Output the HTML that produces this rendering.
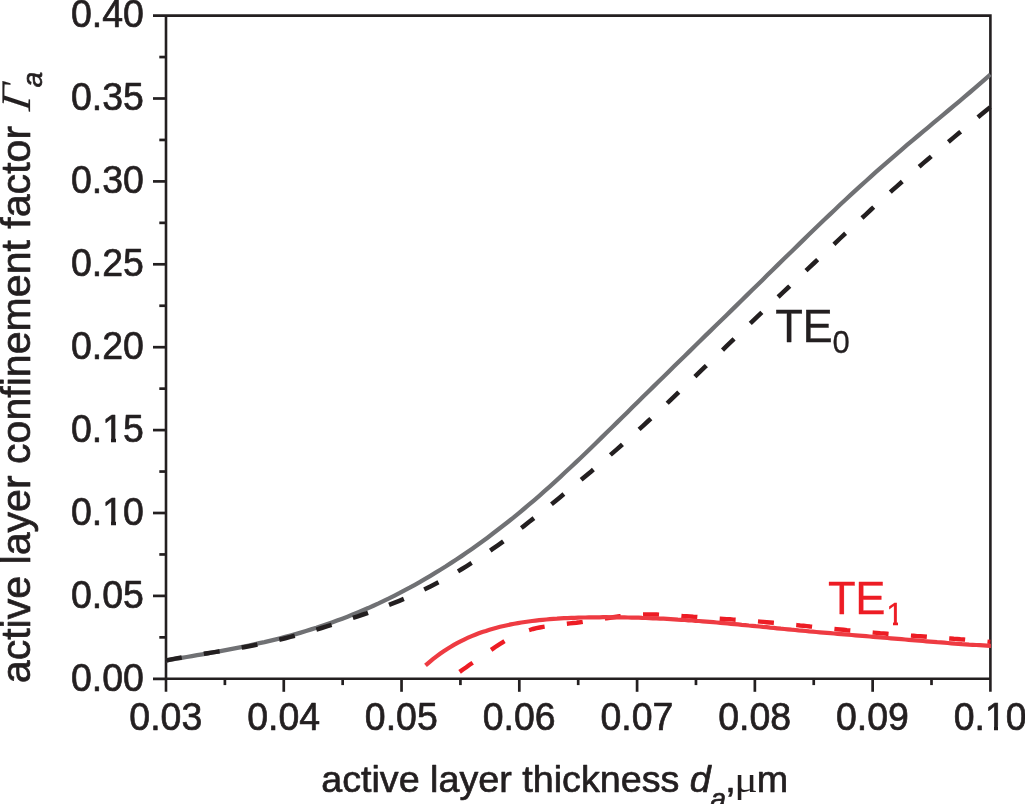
<!DOCTYPE html>
<html><head><meta charset="utf-8"><title>Confinement factor</title>
<style>
html,body{margin:0;padding:0;background:#fff;}
body{width:1025px;height:804px;overflow:hidden;}
svg{display:block;}
text{font-family:"Liberation Sans",sans-serif;fill:#231f20;stroke:#231f20;stroke-width:0.7px;stroke-linejoin:round;}
.tk{font-size:38.7px;}
.ser{font-family:"Liberation Serif",serif;}
</style></head><body>
<svg width="1025" height="804" viewBox="0 0 1025 804">
<rect width="1025" height="804" fill="#fff"/>

<g stroke="#231f20" stroke-width="2.7" fill="none" stroke-linecap="butt">
<path stroke-width="2.6" d="M166.0,15.6 H991.6999999999999 M990.4,15.6 V691.8 M166.0,678.8 H990.4 M166.0,15.6 V691.8"/>
<path d="M153.0,15.6 H166.0 M153.0,678.8 H166.0"/>
<path d="M159.3,637.35 H166.0"/>
<path d="M153.0,595.90 H166.0"/>
<path d="M159.3,554.45 H166.0"/>
<path d="M153.0,513.00 H166.0"/>
<path d="M159.3,471.55 H166.0"/>
<path d="M153.0,430.10 H166.0"/>
<path d="M159.3,388.65 H166.0"/>
<path d="M153.0,347.20 H166.0"/>
<path d="M159.3,305.75 H166.0"/>
<path d="M153.0,264.30 H166.0"/>
<path d="M159.3,222.85 H166.0"/>
<path d="M153.0,181.40 H166.0"/>
<path d="M159.3,139.95 H166.0"/>
<path d="M153.0,98.50 H166.0"/>
<path d="M159.3,57.05 H166.0"/>
<path d="M224.89,678.8 V685.0999999999999"/>
<path d="M283.77,678.8 V691.8"/>
<path d="M342.66,678.8 V685.0999999999999"/>
<path d="M401.54,678.8 V691.8"/>
<path d="M460.43,678.8 V685.0999999999999"/>
<path d="M519.31,678.8 V691.8"/>
<path d="M578.20,678.8 V685.0999999999999"/>
<path d="M637.09,678.8 V691.8"/>
<path d="M695.97,678.8 V685.0999999999999"/>
<path d="M754.86,678.8 V691.8"/>
<path d="M813.74,678.8 V685.0999999999999"/>
<path d="M872.63,678.8 V691.8"/>
<path d="M931.51,678.8 V685.0999999999999"/>
</g>
<text class="tk" transform="translate(143.9,690.5) scale(0.968,1)" text-anchor="end">0.00</text>
<text class="tk" transform="translate(143.9,607.6) scale(0.968,1)" text-anchor="end">0.05</text>
<text class="tk" transform="translate(143.9,524.7) scale(0.968,1)" text-anchor="end">0.10</text>
<rect x="103.88" y="520.01" width="7.12" height="6.09" fill="#fff"/><rect x="116.00" y="520.01" width="6.44" height="6.09" fill="#fff"/>
<text class="tk" transform="translate(143.9,441.8) scale(0.968,1)" text-anchor="end">0.15</text>
<rect x="103.88" y="437.11" width="7.12" height="6.09" fill="#fff"/><rect x="116.00" y="437.11" width="6.44" height="6.09" fill="#fff"/>
<text class="tk" transform="translate(143.9,358.9) scale(0.968,1)" text-anchor="end">0.20</text>
<text class="tk" transform="translate(143.9,276.0) scale(0.968,1)" text-anchor="end">0.25</text>
<text class="tk" transform="translate(143.9,193.1) scale(0.968,1)" text-anchor="end">0.30</text>
<text class="tk" transform="translate(143.9,110.2) scale(0.968,1)" text-anchor="end">0.35</text>
<text class="tk" transform="translate(143.9,27.3) scale(0.968,1)" text-anchor="end">0.40</text>
<text class="tk" transform="translate(165.8,730.4) scale(0.968,1)" text-anchor="middle">0.03</text>
<text class="tk" transform="translate(283.6,730.4) scale(0.968,1)" text-anchor="middle">0.04</text>
<text class="tk" transform="translate(401.3,730.4) scale(0.968,1)" text-anchor="middle">0.05</text>
<text class="tk" transform="translate(519.1,730.4) scale(0.968,1)" text-anchor="middle">0.06</text>
<text class="tk" transform="translate(636.9,730.4) scale(0.968,1)" text-anchor="middle">0.07</text>
<text class="tk" transform="translate(754.7,730.4) scale(0.968,1)" text-anchor="middle">0.08</text>
<text class="tk" transform="translate(872.4,730.4) scale(0.968,1)" text-anchor="middle">0.09</text>
<text class="tk" transform="translate(990.2,730.4) scale(0.968,1)" text-anchor="middle">0.10</text>
<rect x="986.64" y="725.71" width="7.36" height="6.09" fill="#fff"/><rect x="998.00" y="725.71" width="7.19" height="6.09" fill="#fff"/>
<path d="M166.0,660.5 L171.2,659.6 L176.4,658.7 L181.6,657.8 L186.7,657.0 L191.9,656.1 L197.1,655.2 L202.3,654.3 L207.5,653.4 L212.7,652.5 L217.8,651.6 L223.0,650.6 L228.2,649.6 L233.4,648.6 L238.6,647.6 L243.8,646.6 L249.0,645.5 L254.1,644.4 L259.3,643.2 L264.5,642.1 L269.7,640.8 L274.9,639.6 L280.1,638.3 L285.3,636.9 L290.4,635.5 L295.6,634.1 L300.8,632.6 L306.0,631.0 L311.2,629.4 L316.4,627.8 L321.5,626.1 L326.7,624.3 L331.9,622.5 L337.1,620.6 L342.3,618.7 L347.5,616.7 L352.7,614.6 L357.8,612.5 L363.0,610.3 L368.2,608.1 L373.4,605.7 L378.6,603.4 L383.8,600.9 L389.0,598.4 L394.1,595.8 L399.3,593.2 L404.5,590.4 L409.7,587.7 L414.9,584.8 L420.1,581.9 L425.2,578.9 L430.4,575.8 L435.6,572.7 L440.8,569.5 L446.0,566.3 L451.2,562.9 L456.4,559.5 L461.5,556.1 L466.7,552.5 L471.9,548.9 L477.1,545.2 L482.3,541.5 L487.5,537.7 L492.6,533.8 L497.8,529.8 L503.0,525.8 L508.2,521.7 L513.4,517.6 L518.6,513.3 L523.8,509.0 L528.9,504.7 L534.1,500.3 L539.3,495.8 L544.5,491.2 L549.7,486.6 L554.9,481.9 L560.1,477.1 L565.2,472.3 L570.4,467.5 L575.6,462.6 L580.8,457.7 L586.0,452.7 L591.2,447.7 L596.3,442.7 L601.5,437.6 L606.7,432.5 L611.9,427.5 L617.1,422.4 L622.3,417.3 L627.5,412.2 L632.6,407.1 L637.8,401.9 L643.0,396.8 L648.2,391.7 L653.4,386.6 L658.6,381.5 L663.8,376.5 L668.9,371.4 L674.1,366.3 L679.3,361.2 L684.5,356.2 L689.7,351.1 L694.9,346.0 L700.0,341.0 L705.2,335.9 L710.4,330.9 L715.6,325.8 L720.8,320.8 L726.0,315.7 L731.2,310.6 L736.3,305.6 L741.5,300.5 L746.7,295.4 L751.9,290.3 L757.1,285.3 L762.3,280.2 L767.4,275.1 L772.6,270.0 L777.8,264.9 L783.0,259.8 L788.2,254.7 L793.4,249.7 L798.6,244.6 L803.7,239.6 L808.9,234.5 L814.1,229.5 L819.3,224.5 L824.5,219.5 L829.7,214.6 L834.9,209.7 L840.0,204.8 L845.2,200.0 L850.4,195.2 L855.6,190.4 L860.8,185.7 L866.0,181.0 L871.1,176.3 L876.3,171.7 L881.5,167.1 L886.7,162.6 L891.9,158.1 L897.1,153.6 L902.3,149.1 L907.4,144.7 L912.6,140.3 L917.8,136.0 L923.0,131.6 L928.2,127.3 L933.4,122.9 L938.6,118.6 L943.7,114.3 L948.9,110.0 L954.1,105.6 L959.3,101.3 L964.5,96.9 L969.7,92.5 L974.8,88.1 L980.0,83.6 L985.2,79.1 L990.4,74.5" fill="none" stroke="#707174" stroke-width="4.3"/>
<path d="M166.0,660.5 L171.2,659.4 L176.4,658.4 L181.6,657.5 L186.7,656.6 L191.9,655.7 L197.1,654.9 L202.3,654.1 L207.5,653.2 L212.7,652.4 L217.8,651.6 L223.0,650.8 L228.2,649.9 L233.4,649.0 L238.6,648.1 L243.8,647.2 L249.0,646.2 L254.1,645.2 L259.3,644.1 L264.5,643.0 L269.7,641.9 L274.9,640.7 L280.1,639.5 L285.3,638.2 L290.4,636.9 L295.6,635.5 L300.8,634.1 L306.0,632.6 L311.2,631.1 L316.4,629.6 L321.5,628.0 L326.7,626.4 L331.9,624.8 L337.1,623.1 L342.3,621.5 L347.5,619.8 L352.7,618.0 L357.8,616.3 L363.0,614.5 L368.2,612.7 L373.4,610.8 L378.6,608.9 L383.8,606.9 L389.0,604.9 L394.1,602.9 L399.3,600.8 L404.5,598.6 L409.7,596.3 L414.9,594.0 L420.1,591.6 L425.2,589.1 L430.4,586.5 L435.6,583.8 L440.8,581.1 L446.0,578.3 L451.2,575.4 L456.4,572.3 L461.5,569.3 L466.7,566.1 L471.9,562.8 L477.1,559.5 L482.3,556.0 L487.5,552.5 L492.6,548.9 L497.8,545.3 L503.0,541.6 L508.2,537.8 L513.4,533.9 L518.6,530.0 L523.8,526.1 L528.9,522.1 L534.1,518.0 L539.3,513.9 L544.5,509.8 L549.7,505.6 L554.9,501.4 L560.1,497.2 L565.2,493.0 L570.4,488.7 L575.6,484.4 L580.8,480.1 L586.0,475.7 L591.2,471.4 L596.3,467.0 L601.5,462.5 L606.7,458.1 L611.9,453.6 L617.1,449.1 L622.3,444.5 L627.5,439.9 L632.6,435.2 L637.8,430.6 L643.0,425.8 L648.2,421.0 L653.4,416.2 L658.6,411.4 L663.8,406.5 L668.9,401.6 L674.1,396.7 L679.3,391.7 L684.5,386.7 L689.7,381.7 L694.9,376.7 L700.0,371.7 L705.2,366.7 L710.4,361.7 L715.6,356.7 L720.8,351.7 L726.0,346.7 L731.2,341.7 L736.3,336.8 L741.5,331.8 L746.7,326.8 L751.9,321.9 L757.1,316.9 L762.3,312.0 L767.4,307.1 L772.6,302.2 L777.8,297.3 L783.0,292.4 L788.2,287.5 L793.4,282.6 L798.6,277.7 L803.7,272.8 L808.9,267.9 L814.1,263.0 L819.3,258.1 L824.5,253.2 L829.7,248.3 L834.9,243.4 L840.0,238.5 L845.2,233.6 L850.4,228.8 L855.6,223.9 L860.8,219.1 L866.0,214.3 L871.1,209.5 L876.3,204.8 L881.5,200.1 L886.7,195.4 L891.9,190.7 L897.1,186.1 L902.3,181.5 L907.4,176.9 L912.6,172.4 L917.8,167.9 L923.0,163.4 L928.2,159.0 L933.4,154.6 L938.6,150.2 L943.7,145.8 L948.9,141.5 L954.1,137.1 L959.3,132.8 L964.5,128.5 L969.7,124.2 L974.8,119.9 L980.0,115.6 L985.2,111.3 L990.4,107.0" fill="none" stroke="#231f20" stroke-width="4.5" stroke-dasharray="16 22.4"/>
<path d="M459.6,671.9 L462.9,669.5 L466.3,667.2 L469.6,664.8 L473.0,662.5 L476.3,660.2 L479.6,657.9 L483.0,655.5 L486.3,653.2 L489.6,650.9 L493.0,648.6 L496.3,646.3 L499.7,644.2 L503.0,642.1 L506.3,640.1 L509.7,638.3 L513.0,636.5 L516.4,634.9 L519.7,633.5 L523.0,632.2 L526.4,631.0 L529.7,630.0 L533.0,629.0 L536.4,628.2 L539.7,627.5 L543.1,626.8 L546.4,626.3 L549.7,625.7 L553.1,625.3 L556.4,624.9 L559.8,624.5 L563.1,624.1 L566.4,623.8 L569.8,623.4 L573.1,623.0 L576.4,622.7 L579.8,622.3 L583.1,621.8 L586.5,621.4 L589.8,620.9 L593.1,620.4 L596.5,619.9 L599.8,619.3 L603.1,618.8 L606.5,618.2 L609.8,617.7 L613.2,617.2 L616.5,616.7 L619.8,616.2 L623.2,615.8 L626.5,615.5 L629.9,615.2 L633.2,614.9 L636.5,614.7 L639.9,614.6 L643.2,614.5 L646.5,614.4 L649.9,614.4 L653.2,614.5 L656.6,614.5 L659.9,614.7 L663.2,614.8 L666.6,615.0 L669.9,615.2 L673.3,615.4 L676.6,615.6 L679.9,615.8 L683.3,616.1 L686.6,616.3 L689.9,616.5 L693.3,616.8 L696.6,617.0 L700.0,617.3 L703.3,617.5 L706.6,617.8 L710.0,618.0 L713.3,618.2 L716.7,618.5 L720.0,618.7 L723.3,618.9 L726.7,619.1 L730.0,619.3 L733.3,619.6 L736.7,619.8 L740.0,620.0 L743.4,620.3 L746.7,620.5 L750.0,620.8 L753.4,621.0 L756.7,621.3 L760.1,621.6 L763.4,621.9 L766.7,622.2 L770.1,622.5 L773.4,622.8 L776.7,623.1 L780.1,623.4 L783.4,623.8 L786.8,624.1 L790.1,624.4 L793.4,624.8 L796.8,625.1 L800.1,625.5 L803.5,625.8 L806.8,626.1 L810.1,626.5 L813.5,626.8 L816.8,627.2 L820.1,627.5 L823.5,627.8 L826.8,628.2 L830.2,628.5 L833.5,628.9 L836.8,629.2 L840.2,629.5 L843.5,629.8 L846.9,630.2 L850.2,630.5 L853.5,630.8 L856.9,631.1 L860.2,631.4 L863.5,631.7 L866.9,632.0 L870.2,632.3 L873.6,632.6 L876.9,632.9 L880.2,633.2 L883.6,633.4 L886.9,633.7 L890.2,634.0 L893.6,634.3 L896.9,634.5 L900.3,634.8 L903.6,635.0 L906.9,635.3 L910.3,635.6 L913.6,635.8 L917.0,636.1 L920.3,636.3 L923.6,636.5 L927.0,636.8 L930.3,637.0 L933.6,637.3 L937.0,637.5 L940.3,637.8 L943.7,638.0 L947.0,638.3 L950.3,638.5 L953.7,638.8 L957.0,639.0 L960.4,639.3 L963.7,639.5 L967.0,639.8 L970.4,640.1 L973.7,640.4 L977.0,640.7 L980.4,641.0 L983.7,641.3 L987.1,641.6 L990.4,641.9" fill="none" stroke="#ed1c24" stroke-width="4.4" stroke-dasharray="16 22.4 16 27.0 16 22.4 16 22.4 16 22.4 16 22.4 16 22.4 16 22.4 16 22.4 16 22.4 16 22.4 16 22.4 16 22.4 16 22.4 16 22.4 16 22.4 16 22.4 "/>
<path d="M425.5,665.4 L429.1,662.3 L432.6,659.4 L436.2,656.6 L439.7,654.0 L443.3,651.5 L446.8,649.2 L450.4,647.0 L453.9,644.9 L457.5,642.9 L461.0,641.1 L464.6,639.3 L468.1,637.7 L471.7,636.1 L475.2,634.7 L478.8,633.3 L482.3,632.0 L485.9,630.9 L489.5,629.7 L493.0,628.7 L496.6,627.7 L500.1,626.8 L503.7,626.0 L507.2,625.2 L510.8,624.4 L514.3,623.7 L517.9,623.1 L521.4,622.5 L525.0,622.0 L528.5,621.5 L532.1,621.0 L535.6,620.6 L539.2,620.2 L542.7,619.8 L546.3,619.5 L549.8,619.2 L553.4,618.9 L557.0,618.7 L560.5,618.4 L564.1,618.2 L567.6,618.1 L571.2,617.9 L574.7,617.8 L578.3,617.6 L581.8,617.5 L585.4,617.5 L588.9,617.4 L592.5,617.3 L596.0,617.3 L599.6,617.3 L603.1,617.2 L606.7,617.2 L610.2,617.3 L613.8,617.3 L617.4,617.3 L620.9,617.4 L624.5,617.4 L628.0,617.5 L631.6,617.6 L635.1,617.6 L638.7,617.7 L642.2,617.9 L645.8,618.0 L649.3,618.1 L652.9,618.3 L656.4,618.4 L660.0,618.6 L663.5,618.7 L667.1,618.9 L670.6,619.1 L674.2,619.3 L677.8,619.6 L681.3,619.8 L684.9,620.0 L688.4,620.3 L692.0,620.5 L695.5,620.8 L699.1,621.0 L702.6,621.3 L706.2,621.6 L709.7,621.9 L713.3,622.2 L716.8,622.5 L720.4,622.8 L723.9,623.1 L727.5,623.4 L731.0,623.8 L734.6,624.1 L738.1,624.4 L741.7,624.8 L745.3,625.1 L748.8,625.5 L752.4,625.8 L755.9,626.2 L759.5,626.5 L763.0,626.9 L766.6,627.2 L770.1,627.6 L773.7,627.9 L777.2,628.3 L780.8,628.7 L784.3,629.0 L787.9,629.3 L791.4,629.7 L795.0,630.0 L798.5,630.4 L802.1,630.7 L805.7,631.0 L809.2,631.4 L812.8,631.7 L816.3,632.0 L819.9,632.3 L823.4,632.6 L827.0,632.9 L830.5,633.2 L834.1,633.5 L837.6,633.8 L841.2,634.1 L844.7,634.4 L848.3,634.7 L851.8,635.0 L855.4,635.3 L858.9,635.6 L862.5,635.9 L866.1,636.2 L869.6,636.5 L873.2,636.8 L876.7,637.1 L880.3,637.4 L883.8,637.7 L887.4,638.0 L890.9,638.3 L894.5,638.6 L898.0,638.9 L901.6,639.2 L905.1,639.5 L908.7,639.8 L912.2,640.1 L915.8,640.4 L919.3,640.7 L922.9,641.0 L926.4,641.3 L930.0,641.6 L933.6,641.9 L937.1,642.2 L940.7,642.4 L944.2,642.7 L947.8,643.0 L951.3,643.3 L954.9,643.6 L958.4,643.8 L962.0,644.1 L965.5,644.3 L969.1,644.6 L972.6,644.8 L976.2,645.0 L979.7,645.2 L983.3,645.4 L986.8,645.6 L990.4,645.8 L990.9,645.8" fill="none" stroke="#ee3b42" stroke-width="4.2"/>
<text x="775.2" y="342.2" font-size="45.3" style="stroke-width:0.3px" letter-spacing="-0.4">TE<tspan font-size="31" dy="10.5" dx="0.1">0</tspan></text>
<text x="828.1" y="614.3" font-size="45.3" style="fill:#ed1c24;stroke:#ed1c24;stroke-width:0.3px" letter-spacing="-0.4">TE<tspan font-size="31" x="886.3" dy="10.3">1</tspan></text>
<rect x="887.46" y="620.48" width="5.54" height="5.52" fill="#fff"/><rect x="898.00" y="620.48" width="5.23" height="5.52" fill="#fff"/>
<text x="321.2" y="791.8" font-size="37.7">active layer thickness <tspan font-style="italic">d</tspan></text>
<text x="710.6" y="807.8" font-size="27.8" font-style="italic">a</text>
<text x="725.2" y="791.8" font-size="37.7">,</text>
<text transform="translate(734.2,791.8) scale(1.18,0.95)" font-size="37" class="ser" style="stroke:none">μ</text>
<text x="756.8" y="791.8" font-size="37.7">m</text>
<text font-size="41.1" transform="translate(30.3,683.2) rotate(-90)">active layer confinement factor</text>
<text class="ser" font-style="italic" font-size="42" style="stroke-width:0.2px" transform="translate(30.3,111.6) rotate(-90) skewX(-8.3) scale(1.05,1)">Γ</text>
<text font-style="italic" font-size="27.8" transform="translate(42.4,87.3) rotate(-90)">a</text>
</svg></body></html>
